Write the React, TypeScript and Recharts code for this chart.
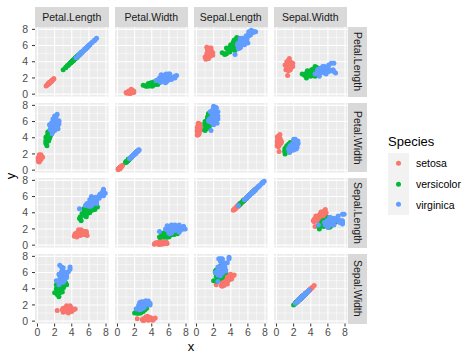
import React from 'react';
import { ScatterChart, Scatter, XAxis, YAxis, CartesianGrid } from 'recharts';

const variables = ['Petal.Length', 'Petal.Width', 'Sepal.Length', 'Sepal.Width'];
const speciesNames = ['setosa', 'versicolor', 'virginica'];
const speciesColors = ['#F8766D', '#00BA38', '#619CFF'];
const majorTicks = [0, 2, 4, 6, 8];
const minorTicks = [1, 3, 5, 7];
const axisDomain = [-0.29, 8.29];

const setosaSepalLength = [5.1,4.9,4.7,4.6,5.0,5.4,4.6,5.0,4.4,4.9,5.4,4.8,4.8,4.3,5.8,5.7,5.4,5.1,5.7,5.1,5.4,5.1,4.6,5.1,4.8,5.0,5.0,5.2,5.2,4.7,4.8,5.4,5.2,5.5,4.9,5.0,5.5,4.9,4.4,5.1,5.0,4.5,4.4,5.0,5.1,4.8,5.1,4.6,5.3,5.0];
const setosaSepalWidth = [3.5,3.0,3.2,3.1,3.6,3.9,3.4,3.4,2.9,3.1,3.7,3.4,3.0,3.0,4.0,4.4,3.9,3.5,3.8,3.8,3.4,3.7,3.6,3.3,3.4,3.0,3.4,3.5,3.4,3.2,3.1,3.4,4.1,4.2,3.1,3.2,3.5,3.6,3.0,3.4,3.5,2.3,3.2,3.5,3.8,3.0,3.8,3.2,3.7,3.3];
const setosaPetalLength = [1.4,1.4,1.3,1.5,1.4,1.7,1.4,1.5,1.4,1.5,1.5,1.6,1.4,1.1,1.2,1.5,1.3,1.4,1.7,1.5,1.7,1.5,1.0,1.7,1.9,1.6,1.6,1.5,1.4,1.6,1.6,1.5,1.5,1.4,1.5,1.2,1.3,1.4,1.3,1.5,1.3,1.3,1.3,1.6,1.9,1.4,1.6,1.4,1.5,1.4];
const setosaPetalWidth = [0.2,0.2,0.2,0.2,0.2,0.4,0.3,0.2,0.2,0.1,0.2,0.2,0.1,0.1,0.2,0.4,0.4,0.3,0.3,0.3,0.2,0.4,0.2,0.5,0.2,0.2,0.4,0.2,0.2,0.2,0.2,0.4,0.1,0.2,0.2,0.2,0.2,0.1,0.2,0.2,0.3,0.3,0.2,0.6,0.4,0.3,0.2,0.2,0.2,0.2];

const versicolorSepalLength = [7.0,6.4,6.9,5.5,6.5,5.7,6.3,4.9,6.6,5.2,5.0,5.9,6.0,6.1,5.6,6.7,5.6,5.8,6.2,5.6,5.9,6.1,6.3,6.1,6.4,6.6,6.8,6.7,6.0,5.7,5.5,5.5,5.8,6.0,5.4,6.0,6.7,6.3,5.6,5.5,5.5,6.1,5.8,5.0,5.6,5.7,5.7,6.2,5.1,5.7];
const versicolorSepalWidth = [3.2,3.2,3.1,2.3,2.8,2.8,3.3,2.4,2.9,2.7,2.0,3.0,2.2,2.9,2.9,3.1,3.0,2.7,2.2,2.5,3.2,2.8,2.5,2.8,2.9,3.0,2.8,3.0,2.9,2.6,2.4,2.4,2.7,2.7,3.0,3.4,3.1,2.3,3.0,2.5,2.6,3.0,2.6,2.3,2.7,3.0,2.9,2.9,2.5,2.8];
const versicolorPetalLength = [4.7,4.5,4.9,4.0,4.6,4.5,4.7,3.3,4.6,3.9,3.5,4.2,4.0,4.7,3.6,4.4,4.5,4.1,4.5,3.9,4.8,4.0,4.9,4.7,4.3,4.4,4.8,5.0,4.5,3.5,3.8,3.7,3.9,5.1,4.5,4.5,4.7,4.4,4.1,4.0,4.4,4.6,4.0,3.3,4.2,4.2,4.2,4.3,3.0,4.1];
const versicolorPetalWidth = [1.4,1.5,1.5,1.3,1.5,1.3,1.6,1.0,1.3,1.4,1.0,1.5,1.0,1.4,1.3,1.4,1.5,1.0,1.5,1.1,1.8,1.3,1.5,1.2,1.3,1.4,1.4,1.7,1.5,1.0,1.1,1.0,1.2,1.6,1.5,1.6,1.5,1.3,1.3,1.3,1.2,1.4,1.2,1.0,1.3,1.2,1.3,1.3,1.1,1.3];

const virginicaSepalLength = [6.3,5.8,7.1,6.3,6.5,7.6,4.9,7.3,6.7,7.2,6.5,6.4,6.8,5.7,5.8,6.4,6.5,7.7,7.7,6.0,6.9,5.6,7.7,6.3,6.7,7.2,6.2,6.1,6.4,7.2,7.4,7.9,6.4,6.3,6.1,7.7,6.3,6.4,6.0,6.9,6.7,6.9,5.8,6.8,6.7,6.7,6.3,6.5,6.2,5.9];
const virginicaSepalWidth = [3.3,2.7,3.0,2.9,3.0,3.0,2.5,2.9,2.5,3.6,3.2,2.7,3.0,2.5,2.8,3.2,3.0,3.8,2.6,2.2,3.2,2.8,2.8,2.7,3.3,3.2,2.8,3.0,2.8,3.0,2.8,3.8,2.8,2.8,2.6,3.0,3.4,3.1,3.0,3.1,3.1,3.1,2.7,3.2,3.3,3.0,2.5,3.0,3.4,3.0];
const virginicaPetalLength = [6.0,5.1,5.9,5.6,5.8,6.6,4.5,6.3,5.8,6.1,5.1,5.3,5.5,5.0,5.1,5.3,5.5,6.7,6.9,5.0,5.7,4.9,6.7,4.9,5.7,6.0,4.8,4.9,5.6,5.8,6.1,6.4,5.6,5.1,5.6,6.1,5.6,5.5,4.8,5.4,5.6,5.1,5.1,5.9,5.7,5.2,5.0,5.2,5.4,5.1];
const virginicaPetalWidth = [2.5,1.9,2.1,1.8,2.2,2.1,1.7,1.8,1.8,2.5,2.0,1.9,2.1,2.0,2.4,2.3,1.8,2.2,2.3,1.5,2.3,2.0,2.0,1.8,2.1,1.8,1.8,1.8,2.1,1.6,1.9,2.0,2.2,1.5,1.4,2.3,2.4,1.8,1.8,2.1,2.4,2.3,1.9,2.3,2.5,2.3,1.9,2.0,2.3,1.8];

function buildRows(pl: number[], pw: number[], sl: number[], sw: number[]) {
  return pl.map((_, i) => ({
    'Petal.Length': pl[i],
    'Petal.Width': pw[i],
    'Sepal.Length': sl[i],
    'Sepal.Width': sw[i],
  }));
}

const speciesData = [
  buildRows(setosaPetalLength, setosaPetalWidth, setosaSepalLength, setosaSepalWidth),
  buildRows(versicolorPetalLength, versicolorPetalWidth, versicolorSepalLength, versicolorSepalWidth),
  buildRows(virginicaPetalLength, virginicaPetalWidth, virginicaSepalLength, virginicaSepalWidth),
];

const FONT = '"Liberation Sans", Arial, Helvetica, sans-serif';
const PX = [35, 114.5, 194, 273.5];
const PY = [27, 102.7, 178.3, 254];
const PW = 73.5;
const PH = 69.5;
const YAXIS_W = 30;
const XAXIS_H = 22;
const M = 7;
const R = 2.5;

function Panel({ r, c }: { r: number; c: number }) {
  const left = c === 0 ? YAXIS_W : 0;
  const bottom = r === 3 ? XAXIS_H : 0;
  const w = PW + left + 2 * M;
  const h = PH + bottom + 2 * M;
  const xVar = variables[r];
  const yVar = variables[c];
  return (
    <div style={{ position: 'absolute', left: PX[c] - left - M, top: PY[r] - M, width: w, height: h }}>
      <ScatterChart width={w} height={h} margin={{ top: M, right: M, bottom: M, left: M }}>
        <CartesianGrid fill="#EBEBEB" fillOpacity={1} stroke="#FFFFFF" strokeWidth={1.1}
          horizontalValues={majorTicks} verticalValues={majorTicks} />
        <CartesianGrid fill="none" stroke="#FFFFFF" strokeWidth={0.5}
          horizontalValues={minorTicks} verticalValues={minorTicks} />
        <XAxis type="number" dataKey={xVar} domain={axisDomain} ticks={majorTicks} interval={0}
          allowDataOverflow hide={r !== 3} height={XAXIS_H} axisLine={false} tickSize={3} tickMargin={2}
          tickLine={{ stroke: '#333333' }} tick={{ fill: '#4D4D4D', fontSize: 10.5, fontFamily: FONT }} />
        <YAxis type="number" dataKey={yVar} domain={axisDomain} ticks={majorTicks} interval={0}
          allowDataOverflow hide={c !== 0} width={YAXIS_W} axisLine={false} tickSize={3} tickMargin={4}
          tickLine={{ stroke: '#333333' }} tick={{ fill: '#4D4D4D', fontSize: 10.5, fontFamily: FONT }} />
        {speciesData.map((rows, s) => (
          <Scatter key={speciesNames[s]} name={speciesNames[s]} data={rows} isAnimationActive={false}
            shape={(p: any) => <circle cx={p.cx} cy={p.cy} r={R} fill={speciesColors[s]} />} />
        ))}
      </ScatterChart>
    </div>
  );
}

export default function App() {
  const panels = [];
  for (let r = 0; r < 4; r++) for (let c = 0; c < 4; c++) panels.push(<Panel key={`${r}-${c}`} r={r} c={c} />);
  return (
    <div style={{ position: 'absolute', left: 0, top: 0, width: 474, height: 361, background: '#FFFFFF', fontFamily: FONT, overflow: 'hidden' }}>
      {variables.map((v, c) => (
        <div key={'top' + v} style={{ position: 'absolute', left: PX[c], top: 7, width: PW, height: 20, background: '#D9D9D9',
          color: '#1A1A1A', fontSize: 10.5, display: 'flex', alignItems: 'center', justifyContent: 'center' }}>{v}</div>
      ))}
      {variables.map((v, r) => (
        <div key={'right' + v} style={{ position: 'absolute', left: 348, top: PY[r], width: 19, height: PH, background: '#D9D9D9',
          color: '#1A1A1A', fontSize: 10.5, display: 'flex', alignItems: 'center', justifyContent: 'center' }}>
          <span style={{ writingMode: 'vertical-rl', whiteSpace: 'nowrap' }}>{v}</span>
        </div>
      ))}
      {panels}
      <div style={{ position: 'absolute', left: 181, top: 339, width: 20, textAlign: 'center', fontSize: 13, color: '#000' }}>x</div>
      <div style={{ position: 'absolute', left: 0, top: 166, width: 20, height: 20, fontSize: 13, color: '#000',
        display: 'flex', alignItems: 'center', justifyContent: 'center', transform: 'rotate(-90deg)' }}>y</div>
      <div style={{ position: 'absolute', left: 388, top: 134, fontSize: 13, color: '#000' }}>Species</div>
      {speciesNames.map((s, i) => (
        <React.Fragment key={s}>
          <div style={{ position: 'absolute', left: 388, top: 153 + i * 20.7, width: 21, height: 20.7, background: '#F2F2F2' }}>
            <svg width={21} height={20.7} style={{ display: 'block' }}>
              <circle cx={10.5} cy={10.35} r={R} fill={speciesColors[i]} />
            </svg>
          </div>
          <div style={{ position: 'absolute', left: 416, top: 153 + i * 20.7, height: 20.7, fontSize: 10.5, color: '#000',
            display: 'flex', alignItems: 'center' }}>{s}</div>
        </React.Fragment>
      ))}
    </div>
  );
}
